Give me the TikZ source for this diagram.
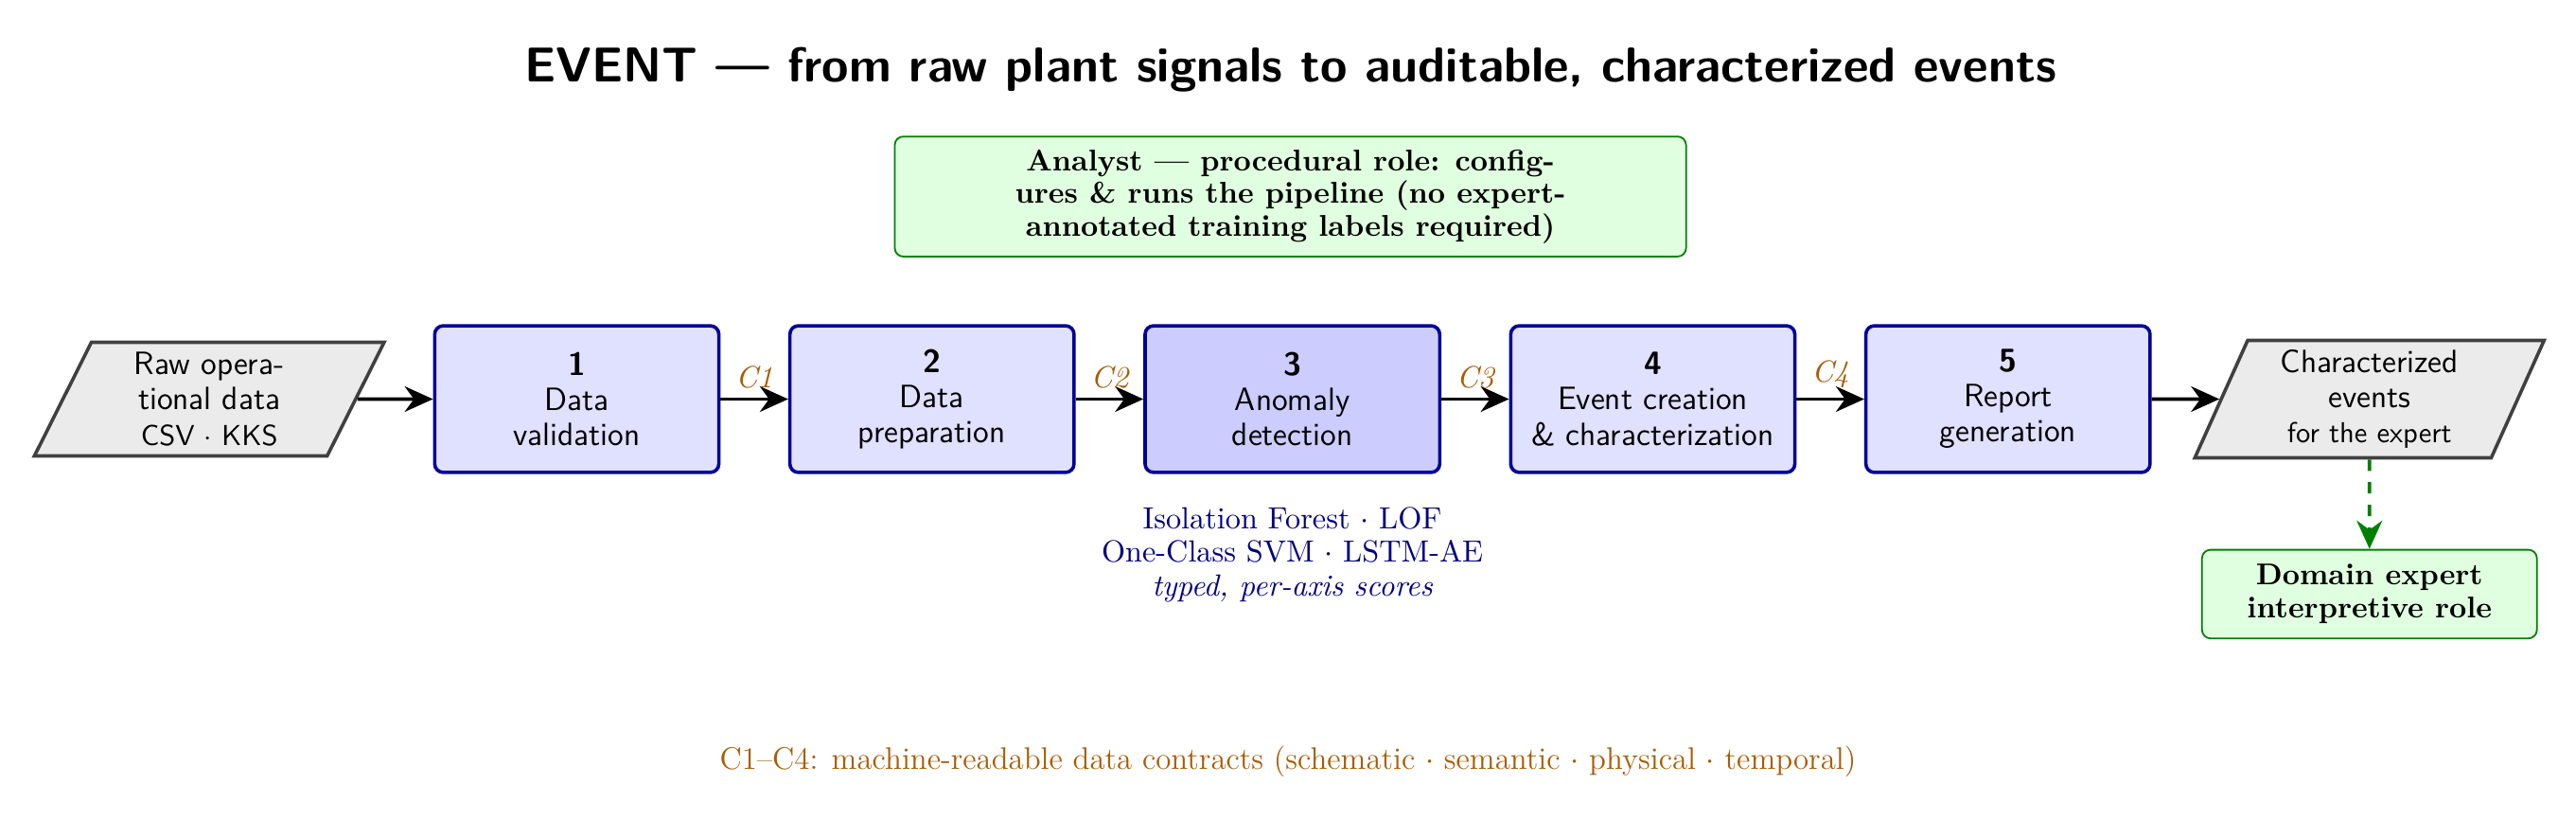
\documentclass[tikz,border=0pt]{standalone}
\usetikzlibrary{positioning,shapes.geometric,arrows.meta}

\definecolor{stageborder}{rgb}{0,0,0.6}
\definecolor{contract}{rgb}{0.66,0.36,0.02}
\definecolor{rolegreen}{rgb}{0,0.5,0}

\newcommand{\boxfont}{\fontsize{11.4}{12.4}\selectfont\sffamily}
\newcommand{\notefont}{\fontsize{10.8}{12}\selectfont}
\newcommand{\rolefont}{\fontsize{10.6}{11.6}\selectfont\bfseries}

\tikzset{
    stage/.style={draw=stageborder, very thick, fill=blue!12, rounded corners=3pt,
        minimum width=3.53cm, minimum height=1.82cm, align=center, font=\boxfont},
    databox/.style={trapezium, trapezium left angle=70, trapezium right angle=110,
        trapezium stretches=true, draw=black!75, very thick, fill=black!8,
        minimum width=4.35cm, minimum height=1.41cm, align=center, font=\boxfont},
    rolebox/.style={draw=rolegreen, semithick, fill=green!12, rounded corners=3pt,
        align=center, font=\rolefont},
    flow/.style={-{Stealth[length=10pt,width=9pt]}, line width=1.2pt},
    clabel/.style={above, font=\notefont\itshape, text=contract}
}

\begin{document}
\begin{tikzpicture}

    \useasboundingbox (0,0) rectangle (32,-10.18);

    % -------------------------------
    % title and analyst role
    % -------------------------------
    \node[font=\sffamily\bfseries\LARGE] (title) at (16.03,-0.86)
        {EVENT --- from raw plant signals to auditable, characterized events};

    \node[rolebox, minimum width=9.83cm, minimum height=1.49cm] (analyst) at (16.03,-2.44)
        {Analyst --- procedural role: config-\\ures \& runs the pipeline (no expert-\\annotated training labels required)};

    % -------------------------------
    % pipeline
    % -------------------------------
    \node[databox] (raw) at (2.60,-4.955) {Raw opera-\\tional data\\{\fontsize{10.2}{12}\selectfont CSV $\cdot$ KKS}};

    \node[stage] (s1) at (7.165,-4.955) {{\bfseries 1}\\Data\\validation};
    \node[stage, right=0.84cm of s1] (s2) {{\bfseries 2}\\Data\\preparation};
    \node[stage, fill=blue!20, minimum width=3.66cm, right=0.84cm of s2] (s3) {{\bfseries 3}\\Anomaly\\detection};
    \node[stage, right=0.84cm of s3] (s4) {{\bfseries 4}\\Event creation\\\& characterization};
    \node[stage, right=0.84cm of s4] (s5) {{\bfseries 5}\\Report\\generation};

    \node[databox, right=0.84cm of s5] (out) {Characterized\\events\\{\fontsize{10.2}{12}\selectfont for the expert}};

    \draw[flow] (raw) -- (s1);
    \draw[flow] (s1) -- node[clabel] {C1} (s2);
    \draw[flow] (s2) -- node[clabel] {C2} (s3);
    \draw[flow] (s3) -- node[clabel] {C3} (s4);
    \draw[flow] (s4) -- node[clabel] {C4} (s5);
    \draw[flow] (s5) -- (out);

    % detectors
    \node[below=0.4cm of s3, align=center, font=\notefont, text=blue!50!black, inner sep=0pt] (detectors)
        {Isolation Forest $\cdot$ LOF\\One-Class SVM $\cdot$ LSTM-AE\\\textit{typed, per-axis scores}};

    % -------------------------------
    % domain expert
    % -------------------------------
    \node[rolebox, minimum width=4.16cm, minimum height=1.1cm, below=1.11cm of out] (expert)
        {Domain expert\\interpretive role};
    \draw[flow, dash pattern=on 4pt off 4pt, rolegreen] (out) -- (expert);

    \node[font=\fontsize{11}{12}\selectfont, text=contract] (contracts) at (16.0,-9.46)
        {C1--C4: machine-readable data contracts (schematic $\cdot$ semantic $\cdot$ physical $\cdot$ temporal)};

\end{tikzpicture}
\end{document}
